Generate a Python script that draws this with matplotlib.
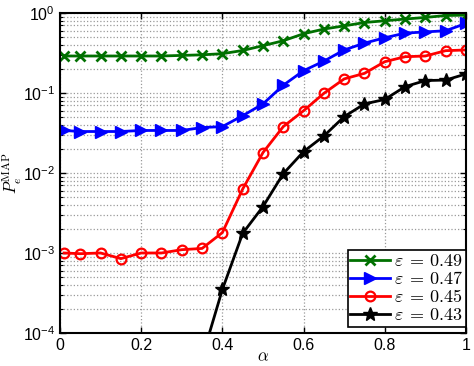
import numpy as np
import matplotlib
matplotlib.use("Agg")
import matplotlib.pyplot as plt
from matplotlib.ticker import LogLocator, NullFormatter, FixedLocator

alpha = [0.01, 0.05, 0.1, 0.15, 0.2, 0.25, 0.3, 0.35, 0.4, 0.45, 0.5,
         0.55, 0.6, 0.65, 0.7, 0.75, 0.8, 0.85, 0.9, 0.95, 1.0]
nan = np.nan
pe_049 = [0.29, 0.29, 0.29, 0.29, 0.29, 0.29, 0.295, 0.30, 0.31, 0.34, 0.39,
          0.45, 0.55, 0.63, 0.69, 0.76, 0.80, 0.84, 0.88, 0.93, 0.94]
pe_047 = [0.034, 0.033, 0.033, 0.033, 0.034, 0.034, 0.034, 0.037, 0.038, 0.052, 0.073,
          0.125, 0.19, 0.25, 0.345, 0.42, 0.49, 0.56, 0.58, 0.60, 0.74]
pe_045 = [0.001, 0.00098, 0.001, 0.00085, 0.001, 0.001, 0.0011, 0.00114, 0.0018, 0.0063, 0.018,
          0.038, 0.060, 0.099, 0.15, 0.176, 0.246, 0.284, 0.29, 0.338, 0.345]
pe_043 = [nan, nan, nan, nan, nan, nan, nan, 4.9e-5, 0.00035, 0.00176, 0.0038,
          0.0098, 0.0185, 0.029, 0.0506, 0.073, 0.083, 0.12, 0.143, 0.145, 0.173]
labels = [r'$\varepsilon\:=\:0.49$', r'$\varepsilon\:=\:0.47$', r'$\varepsilon\:=\:0.45$', r'$\varepsilon\:=\:0.43$']
xticks = [0, 0.2, 0.4, 0.6, 0.8, 1]
xticklabels = ['0', '0.2', '0.4', '0.6', '0.8', '1']

plt.rcParams['font.family'] = ['Liberation Sans', 'DejaVu Sans']
plt.rcParams['mathtext.fontset'] = 'cm'

fig = plt.figure(figsize=(4.74, 3.66), dpi=100)
ax = fig.add_axes([0.1266, 0.0902, 0.8564, 0.8743])

ax.plot(alpha, pe_049, color='#007000', lw=2, marker='x', ms=7, mew=2, label=labels[0])
ax.plot(alpha, pe_047, color='#0000ff', lw=2, marker='>', ms=8, mew=1, label=labels[1])
ax.plot(alpha, pe_045, color='#ff0000', lw=2, marker='o', ms=7, mew=1.6, mfc='none', label=labels[2])
ax.plot(alpha, pe_043, color='black', lw=2, marker='*', ms=10, mew=1, label=labels[3])

ax.set_yscale('log')
ax.set_xlim(0, 1)
ax.set_ylim(1e-4, 1)
ax.xaxis.set_major_locator(FixedLocator(xticks))
ax.set_xticklabels(xticklabels)
ax.yaxis.set_major_locator(LogLocator(base=10, numticks=10))
ax.yaxis.set_minor_locator(LogLocator(base=10, subs=np.arange(2, 10), numticks=10))
ax.yaxis.set_minor_formatter(NullFormatter())

ax.grid(True, which='major', axis='both', linestyle=':', color='#999999', lw=0.9)
ax.grid(True, which='minor', axis='y', linestyle=':', color='#999999', lw=0.9)

ax.tick_params(which='both', direction='in', top=True, right=True, labelsize=11.5)
ax.tick_params(which='major', length=4, width=1)
ax.tick_params(which='minor', length=2, width=0.8)
for s in ax.spines.values():
    s.set_linewidth(1.5)

ax.set_xlabel(r'$\alpha$', fontsize=12)
ax.xaxis.set_label_coords(0.5, -0.052)
ax.set_ylabel(r'$P_e^{\rm MAP}$', fontsize=12)
ax.yaxis.set_label_coords(-0.088, 0.5)

leg = ax.legend(loc='lower right', bbox_to_anchor=(1.0, 0.02), fontsize=13, frameon=True,
                fancybox=False, borderaxespad=0.0, handlelength=2.2, handletextpad=0.2,
                borderpad=0.15, labelspacing=0.05)
leg.get_frame().set_edgecolor('black')
leg.get_frame().set_linewidth(1.2)
leg.get_frame().set_alpha(1)

fig.savefig('out.png', dpi=100)
